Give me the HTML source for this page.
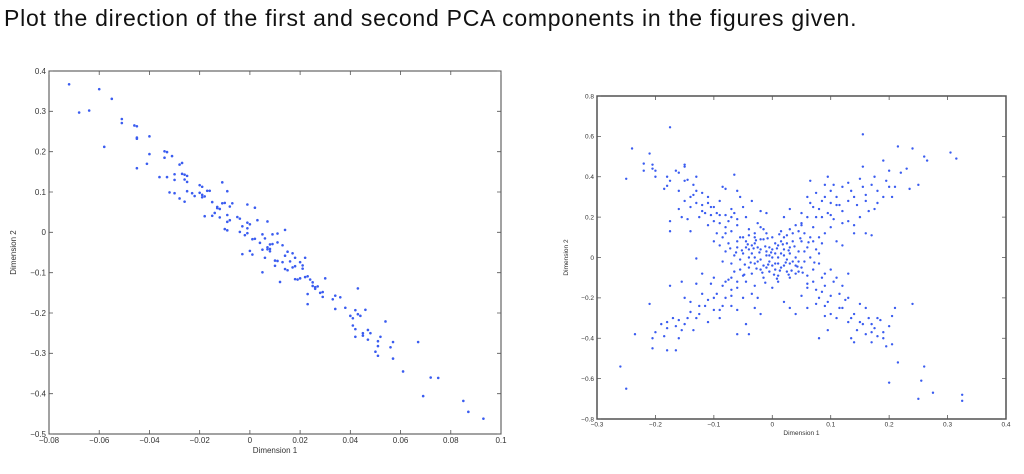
<!DOCTYPE html>
<html><head><meta charset="utf-8">
<style>
html,body{margin:0;padding:0;background:#fff;width:1024px;height:474px;overflow:hidden}
#title{position:absolute;left:4px;top:5px;font:23px "Liberation Sans",sans-serif;letter-spacing:0.75px;color:#111;white-space:nowrap}
svg{position:absolute;left:0;top:0}
text{font-family:"Liberation Sans",sans-serif;fill:#333}
</style></head><body>
<div id="title">Plot the direction of the first and second PCA components in the figures given.</div>
<svg id="svg" width="1024" height="474"></svg>
<script>
const leftXTicks=[-0.08,-0.06,-0.04,-0.02,0,0.02,0.04,0.06,0.08,0.1];
const leftXLabels=["\u22120.08","\u22120.06","\u22120.04","\u22120.02","0","0.02","0.04","0.06","0.08","0.1"];
const leftYTicks=[-0.5,-0.4,-0.3,-0.2,-0.1,0,0.1,0.2,0.3,0.4];
const leftYLabels=["\u22120.5","\u22120.4","\u22120.3","\u22120.2","\u22120.1","0","0.1","0.2","0.3","0.4"];
const rightXTicks=[-0.3,-0.2,-0.1,0,0.1,0.2,0.3,0.4];
const rightXLabels=["\u22120.3","\u22120.2","\u22120.1","0","0.1","0.2","0.3","0.4"];
const rightYTicks=[-0.8,-0.6,-0.4,-0.2,0,0.2,0.4,0.6,0.8];
const rightYLabels=["\u22120.8","\u22120.6","\u22120.4","\u22120.2","0","0.2","0.4","0.6","0.8"];
const leftPoints=[[-0.072,0.367],[-0.068,0.297],[-0.064,0.302],[-0.060,0.355],[-0.055,0.331],[-0.058,0.212],[-0.051,0.281],[-0.051,0.271],[-0.046,0.265],[-0.045,0.263],[-0.045,0.235],[-0.045,0.232],[-0.040,0.238],[-0.040,0.194],[-0.045,0.159],[-0.041,0.170],[-0.036,0.137],[-0.034,0.201],[-0.033,0.199],[-0.031,0.189],[-0.034,0.185],[-0.033,0.137],[-0.030,0.144],[-0.030,0.130],[-0.032,0.099],[-0.030,0.097],[-0.028,0.168],[-0.027,0.172],[-0.027,0.145],[-0.026,0.143],[-0.025,0.140],[-0.026,0.131],[-0.025,0.125],[-0.028,0.084],[-0.026,0.076],[-0.025,0.102],[-0.023,0.097],[-0.022,0.090],[-0.020,0.117],[-0.019,0.113],[-0.020,0.098],[-0.019,0.093],[-0.018,0.089],[-0.019,0.087],[-0.017,0.103],[-0.016,0.103],[-0.018,0.040],[-0.015,0.041],[-0.015,0.075],[-0.014,0.048],[-0.013,0.063],[-0.013,0.060],[-0.012,0.058],[-0.011,0.124],[-0.012,0.037],[-0.011,0.072],[-0.010,0.073],[-0.009,0.102],[-0.009,0.043],[-0.009,0.026],[-0.008,0.030],[-0.010,0.008],[-0.009,0.005],[-0.008,0.064],[-0.007,0.072],[-0.005,0.038],[-0.004,0.034],[-0.004,0.001],[-0.003,0.015],[-0.002,-0.007],[-0.003,-0.054],[-0.001,0.069],[-0.001,0.024],[0.000,0.020],[-0.001,0.010],[-0.001,-0.002],[0.000,-0.046],[0.001,-0.055],[0.001,-0.017],[0.002,-0.016],[0.002,0.061],[0.003,0.030],[0.004,-0.026],[0.005,-0.005],[0.005,-0.043],[0.005,-0.099],[0.006,-0.063],[0.006,-0.015],[0.007,0.027],[0.007,-0.037],[0.007,-0.042],[0.008,-0.047],[0.008,-0.041],[0.008,-0.030],[0.009,-0.005],[0.009,-0.029],[0.010,-0.070],[0.010,-0.083],[0.011,-0.003],[0.011,-0.071],[0.011,-0.025],[0.012,-0.123],[0.013,-0.074],[0.013,-0.032],[0.014,0.006],[0.014,-0.058],[0.015,-0.048],[0.014,-0.091],[0.015,-0.094],[0.016,-0.072],[0.017,-0.052],[0.017,-0.087],[0.018,-0.063],[0.018,-0.084],[0.018,-0.116],[0.019,-0.117],[0.020,-0.074],[0.020,-0.114],[0.021,-0.082],[0.021,-0.090],[0.022,-0.063],[0.022,-0.111],[0.023,-0.109],[0.023,-0.153],[0.023,-0.178],[0.024,-0.117],[0.025,-0.124],[0.025,-0.133],[0.026,-0.140],[0.026,-0.136],[0.027,-0.134],[0.028,-0.150],[0.029,-0.148],[0.029,-0.160],[0.030,-0.114],[0.033,-0.166],[0.034,-0.157],[0.034,-0.190],[0.036,-0.161],[0.038,-0.187],[0.040,-0.207],[0.041,-0.213],[0.041,-0.231],[0.042,-0.240],[0.042,-0.193],[0.043,-0.203],[0.043,-0.139],[0.042,-0.259],[0.044,-0.207],[0.045,-0.250],[0.045,-0.256],[0.046,-0.192],[0.047,-0.242],[0.047,-0.266],[0.048,-0.250],[0.050,-0.296],[0.051,-0.306],[0.051,-0.270],[0.051,-0.282],[0.052,-0.259],[0.054,-0.221],[0.056,-0.285],[0.057,-0.272],[0.057,-0.313],[0.061,-0.345],[0.067,-0.272],[0.069,-0.406],[0.072,-0.360],[0.075,-0.361],[0.085,-0.418],[0.087,-0.445],[0.093,-0.462]];
const rightPoints=[[-0.175,0.645],[-0.24,0.54],[-0.25,0.39],[-0.21,0.515],[-0.22,0.465],[-0.205,0.46],[-0.205,0.44],[-0.22,0.43],[-0.2,0.4],[-0.15,0.46],[-0.15,0.45],[-0.165,0.43],[-0.16,0.42],[-0.175,0.38],[-0.185,0.34],[-0.18,0.355],[-0.145,0.385],[-0.15,0.38],[-0.13,0.4],[-0.135,0.31],[-0.12,0.32],[-0.11,0.3],[-0.13,0.27],[-0.105,0.25],[-0.1,0.25],[-0.095,0.22],[-0.09,0.21],[-0.08,0.21],[-0.07,0.2],[-0.085,0.35],[-0.08,0.34],[-0.065,0.41],[-0.06,0.33],[-0.055,0.3],[-0.175,0.18],[-0.175,0.13],[-0.16,0.24],[-0.155,0.2],[-0.15,0.28],[-0.14,0.3],[-0.145,0.19],[-0.125,0.2],[-0.12,0.23],[-0.11,0.16],[-0.105,0.21],[-0.135,0.36],[-0.14,0.13],[-0.115,0.22],[-0.1,0.08],[-0.095,0.12],[-0.09,0.17],[-0.08,0.15],[-0.075,0.18],[-0.07,0.13],[-0.065,0.22],[-0.06,0.16],[-0.055,0.1],[-0.05,0.25],[-0.045,0.2],[-0.04,0.14],[-0.035,0.28],[-0.03,0.1],[-0.025,0.17],[-0.02,0.23],[-0.015,0.14],[-0.01,0.22],[-0.13,-0.005],
[-0.06,0.05],[-0.05,0.02],[-0.045,0.08],[-0.04,0.04],[-0.035,0.06],[-0.03,0.0],[-0.03,0.07],[-0.025,-0.02],[-0.02,0.04],[-0.015,0.09],[-0.01,0.01],[-0.005,0.05],[0,0.0],[0.005,-0.03],[0.01,0.06],[0.015,0.02],[0.02,0.1],[0.025,-0.01],[0.03,0.05],[0.035,0.12],[0.04,-0.04],[0.045,0.03],[0.05,0.08],[0.055,-0.02],[0.06,0.05],[-0.07,-0.03],[-0.065,0.01],[-0.055,-0.06],[-0.05,-0.09],[-0.04,-0.05],[-0.035,-0.08],[-0.02,-0.06],[-0.015,-0.1],[-0.005,-0.07],[0.005,-0.06],[0.01,-0.09],[0.02,-0.04],[0.025,-0.07],[0.03,-0.1],[0.035,-0.02],[0.04,-0.08],[0.05,-0.05],[0.06,-0.09],[0.065,0.0],[0.07,-0.06],[-0.08,0.03],[-0.085,-0.02],[-0.09,0.06],[0.075,0.04],[0.08,-0.03],[0.085,0.07],[-0.01,0.12],[0.0,0.1],[0.01,-0.12],[-0.02,0.15],[0.0,-0.15],[0.015,0.13],[-0.045,-0.12],[0.045,0.13],[0.04,0.16],[-0.03,-0.14],
[-0.06,0.08],[-0.05,0.1],[-0.04,0.11],[-0.025,0.05],[-0.01,0.03],[0.0,0.04],[0.01,0.0],[0.02,0.01],[0.03,-0.03],[0.04,0.0],[-0.005,-0.02],[0.005,0.02],[0.015,-0.05],[0.025,0.07],[-0.035,0.02],[-0.015,-0.04],[0.035,0.08],[0.055,0.12],[-0.055,-0.01],[0.045,-0.07],[-0.065,-0.07],[0.065,0.1],
[-0.045,0.05],[-0.02,0.09],[0.005,0.07],[0.02,0.04],[0.03,0.02],[-0.01,-0.05],[0.01,-0.03],[-0.03,-0.03],[-0.005,0.01],[0.015,0.08],[0.045,-0.02],[-0.075,0.07],[0.08,0.02],[-0.02,-0.01],[0.0,-0.04],[0.025,0.11],[-0.04,0.0],[0.055,0.03],
[-0.052,0.035],[-0.042,0.065],[-0.032,0.045],[-0.022,0.025],[-0.012,0.055],[-0.002,0.025],[0.008,0.045],[0.018,0.065],[0.028,0.035],[0.038,0.055],[-0.047,-0.035],[-0.037,-0.025],[-0.027,-0.055],[-0.017,-0.075],[-0.007,-0.035],[0.003,-0.085],[0.013,-0.065],[0.023,-0.025],[0.033,-0.065],[0.043,-0.045],[-0.062,0.025],[0.052,-0.075],[0.062,0.075],[-0.072,0.045],[0.072,-0.025],[-0.028,0.085],[0.028,-0.085],[-0.008,0.095],[0.008,-0.105],[0.048,0.095],[-0.048,-0.085],[0.012,0.115],[-0.012,-0.125],[-0.085,0.1],[0.09,-0.08],[0.07,0.08],[-0.07,-0.1],[0.03,0.14],[-0.03,0.12],[0.05,0.16],[-0.06,-0.15],[0.06,-0.13],
[0.075,0.2],[0.1,0.21],[0.11,0.26],[0.14,0.3],[0.16,0.28],[0.12,0.17],[0.09,0.3],[0.18,0.33],[0.2,0.43],[0.23,0.44],[0.25,0.36],[0.155,0.35],[0.105,0.36],[0.065,0.27],
[0.085,-0.1],[0.1,-0.19],[0.115,-0.25],[0.135,-0.3],[0.15,-0.32],[0.17,-0.37],[0.13,-0.2],[0.16,-0.25],[0.18,-0.3],[0.19,-0.4],[0.09,-0.29],[0.075,-0.23],
[-0.08,-0.12],[-0.095,-0.18],[-0.11,-0.21],[-0.125,-0.24],[-0.14,-0.27],[-0.16,-0.31],[-0.18,-0.35],[-0.13,-0.3],[-0.15,-0.33],[-0.1,-0.26],[-0.085,-0.24],[-0.07,-0.19],
[-0.08,0.12],[-0.1,0.18],[-0.12,0.26],[-0.14,0.25],[-0.16,0.33],[-0.11,0.27],[-0.09,0.28],[-0.07,0.24],[-0.13,0.33],[-0.18,0.4],[-0.2,0.43],[-0.06,0.19],
[0.07,0.15],[0.06,0.2],[0.07,0.25],[0.075,0.32],[0.065,0.38],[0.08,0.24],[0.085,0.2],[0.09,0.36],[0.095,0.4],[0.095,0.22],[0.1,0.33],[0.1,0.27],[0.105,0.19],[0.11,0.3],[0.115,0.26],[0.12,0.35],[0.12,0.23],[0.13,0.37],[0.135,0.33],[0.14,0.16],[0.145,0.26],[0.15,0.39],[0.155,0.45],[0.155,0.61],[0.16,0.31],[0.165,0.23],[0.17,0.36],[0.175,0.4],[0.175,0.24],[0.18,0.27],[0.19,0.48],[0.19,0.3],[0.195,0.38],[0.2,0.35],[0.205,0.3],[0.21,0.35],[0.215,0.55],[0.22,0.42],[0.235,0.34],[0.24,0.54],[0.26,0.5],[0.265,0.48],[0.305,0.52],[0.315,0.49],[0.09,0.12],[0.08,0.1],[0.1,0.15],[0.11,0.08],[0.12,0.06],[0.13,0.18],[0.14,0.12],[0.085,0.28],[0.06,0.3],[0.05,0.22],[0.05,0.17],[0.03,0.24],[0.02,0.2],[0.16,0.12],[0.17,0.11],[0.15,0.2],[0.13,0.28],
[0.07,-0.12],[0.075,-0.16],[0.08,-0.2],[0.085,-0.17],[0.09,-0.14],[0.09,-0.24],[0.095,-0.22],[0.1,-0.28],[0.105,-0.12],[0.11,-0.3],[0.115,-0.18],[0.12,-0.25],[0.125,-0.21],[0.13,-0.32],[0.135,-0.4],[0.14,-0.42],[0.14,-0.28],[0.145,-0.36],[0.15,-0.23],[0.155,-0.33],[0.16,-0.38],[0.165,-0.3],[0.17,-0.42],[0.17,-0.33],[0.175,-0.35],[0.18,-0.39],[0.185,-0.31],[0.19,-0.37],[0.195,-0.44],[0.2,-0.34],[0.2,-0.62],[0.205,-0.29],[0.205,-0.43],[0.21,-0.25],[0.215,-0.52],[0.24,-0.23],[0.25,-0.7],[0.255,-0.61],[0.26,-0.54],[0.275,-0.67],[0.325,-0.68],[0.325,-0.71],[0.08,-0.4],[0.095,-0.36],[0.06,-0.25],[0.05,-0.19],[0.04,-0.28],[0.03,-0.25],[0.02,-0.22],[0.11,-0.1],[0.12,-0.14],[0.06,-0.15],[0.1,-0.06],[0.13,-0.08],
[-0.06,-0.12],[-0.07,-0.16],[-0.08,-0.2],[-0.085,-0.14],[-0.09,-0.26],[-0.1,-0.2],[-0.105,-0.13],[-0.11,-0.32],[-0.115,-0.24],[-0.12,-0.18],[-0.125,-0.28],[-0.13,-0.13],[-0.135,-0.36],[-0.14,-0.22],[-0.145,-0.3],[-0.15,-0.2],[-0.155,-0.36],[-0.155,-0.12],[-0.16,-0.4],[-0.165,-0.34],[-0.17,-0.3],[-0.175,-0.14],[-0.18,-0.32],[-0.185,-0.39],[-0.19,-0.33],[-0.2,-0.37],[-0.205,-0.4],[-0.205,-0.45],[-0.21,-0.23],[-0.18,-0.46],[-0.165,-0.46],[-0.235,-0.38],[-0.25,-0.65],[-0.26,-0.54],[-0.06,-0.38],[-0.04,-0.38],[-0.06,-0.26],[-0.05,-0.2],[-0.035,-0.18],[-0.03,-0.25],[-0.025,-0.2],[-0.02,-0.28],[-0.09,-0.3],[-0.075,-0.11],[-0.1,-0.1],[-0.12,-0.08],[-0.045,-0.33],[-0.07,-0.24]];

const NS='http://www.w3.org/2000/svg';
const svg=document.getElementById('svg');
function mk(tag,attrs,parent){const e=document.createElementNS(NS,tag);for(const k in attrs)e.setAttribute(k,attrs[k]);(parent||svg).appendChild(e);return e;}

function chart(cfg){
  const g=mk('g',{});
  
  
  const {x0,x1,y0,y1,xmin,xmax,ymin,ymax}=cfg;
  const sx=v=>x0+(v-xmin)/(xmax-xmin)*(x1-x0);
  const sy=v=>y1-(v-ymin)/(ymax-ymin)*(y1-y0);
  const frame=mk('rect',{x:x0,y:y0,width:x1-x0,height:y1-y0,fill:'none',stroke:'#444','stroke-width':cfg.sw},g);
  
  
  cfg.xt.forEach((t,i)=>{
    const X=sx(t);
    const tk=mk('path',{d:`M${X},${y1}v-4M${X},${y0}v4`,stroke:'#555','stroke-width':0.8},g);
    
    
    const tx=mk('text',{x:X,y:y1+cfg.fs+1,'font-size':cfg.fs,'text-anchor':'middle'},g);
    tx.textContent=cfg.xl[i];
    
    
  });
  cfg.yt.forEach((t,i)=>{
    const Y=sy(t);
    const tk=mk('path',{d:`M${x0},${Y}h4M${x1},${Y}h-4`,stroke:'#555','stroke-width':0.8},g);
    
    
    const tx=mk('text',{x:x0-3,y:Y+cfg.fs*0.35,'font-size':cfg.fs,'text-anchor':'end'},g);
    tx.textContent=cfg.yl[i];
    
    
  });
  const xa=mk('text',{x:(x0+x1)/2,y:y1+cfg.fs*2+3,'font-size':cfg.fs,'text-anchor':'middle'},g);
  xa.textContent='Dimension 1';
  
  
  const ya=mk('text',{x:0,y:0,'font-size':cfg.fs,'text-anchor':'middle',transform:`translate(${cfg.yax},${(y0+y1)/2}) rotate(-90)`},g);
  ya.textContent='Dimension 2';
  
  
  cfg.pts.forEach(p=>{
    const c=mk('circle',{cx:sx(p[0]),cy:sy(p[1]),r:cfg.r,fill:'#3a5cf0'},g);
    
    
  });
}
chart({name:'left-scatter-chart',x0:49,x1:501,y0:71,y1:434,xmin:-0.08,xmax:0.1,ymin:-0.5,ymax:0.4,xt:leftXTicks,xl:leftXLabels,yt:leftYTicks,yl:leftYLabels,pts:leftPoints,fs:8,sw:1,r:1.3,yax:16});
chart({name:'right-scatter-chart',x0:597,x1:1006,y0:96,y1:419,xmin:-0.3,xmax:0.4,ymin:-0.8,ymax:0.8,xt:rightXTicks,xl:rightXLabels,yt:rightYTicks,yl:rightYLabels,pts:rightPoints,fs:6.5,sw:1.4,r:1.2,yax:568});
</script>
</body></html>
